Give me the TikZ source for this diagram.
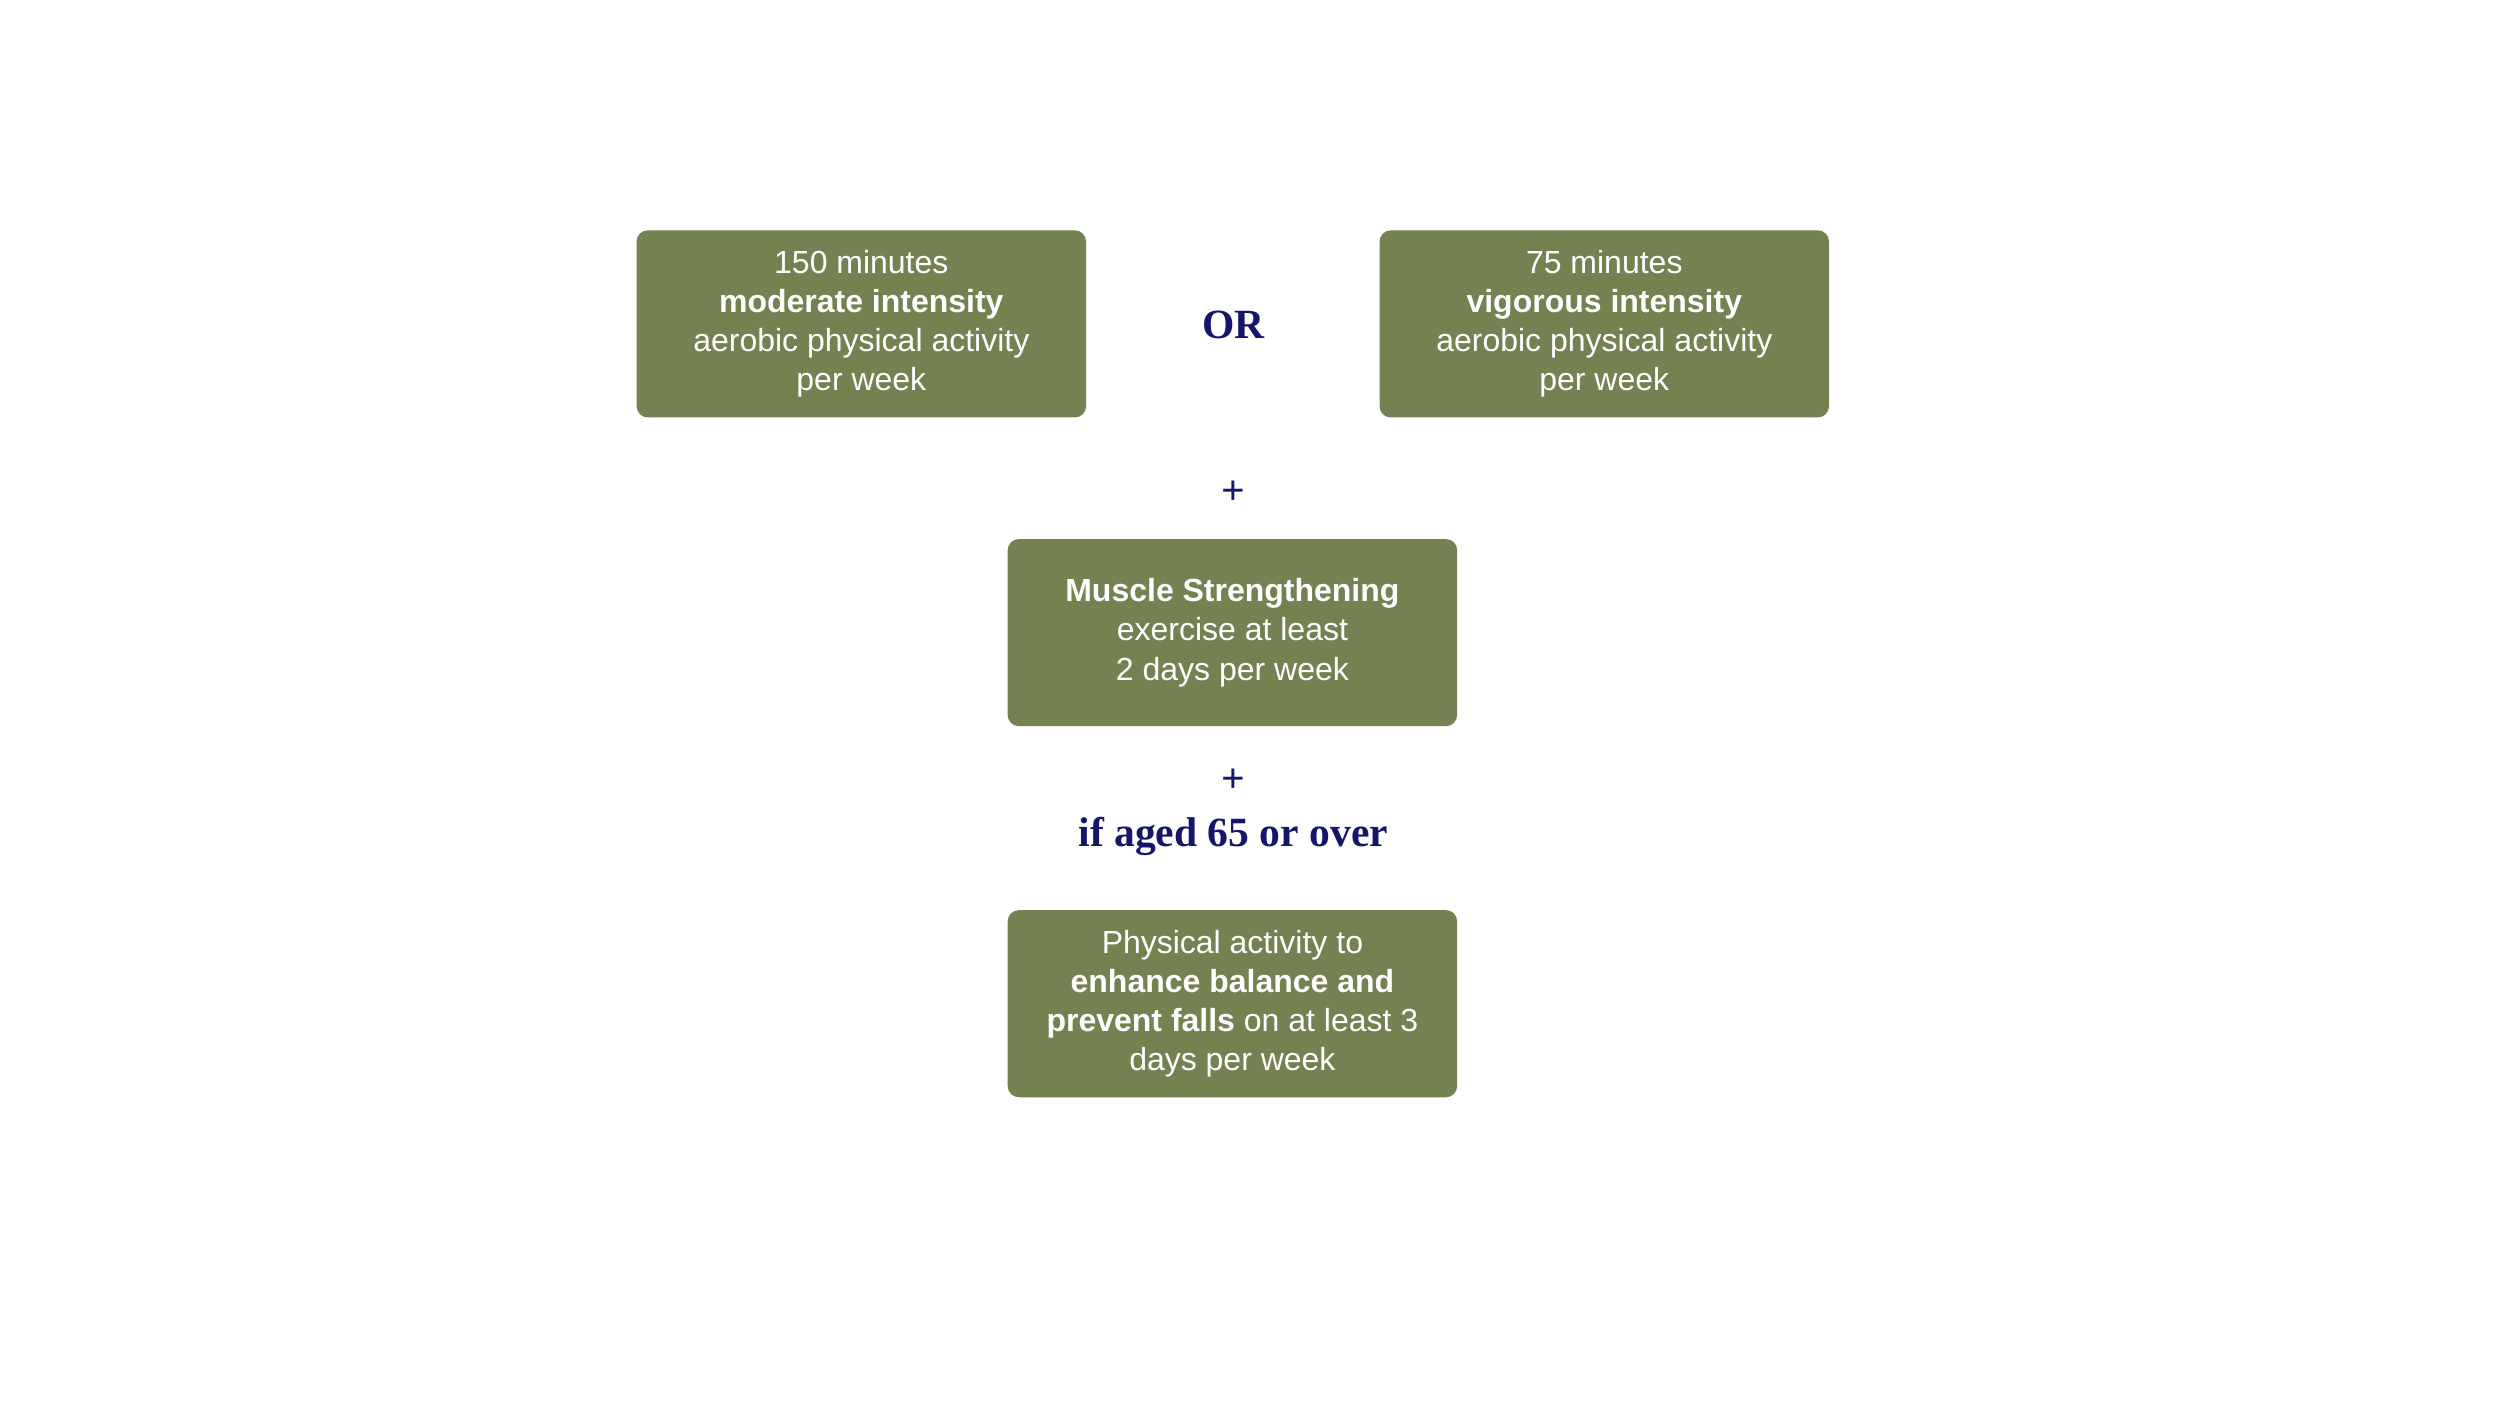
\documentclass[tikz,border=0pt]{standalone}
\usepackage{fontspec}
\setmainfont{Liberation Sans}
\newfontfamily\serifb{Liberation Serif}
\definecolor{boxg}{HTML}{748150}
\definecolor{navy}{HTML}{14156B}
\begin{document}
\begin{tikzpicture}[x=1pt,y=-1pt,
 box/.style={fill=boxg,rounded corners=7pt,minimum width=281pt,minimum height=117pt,text=white,align=center,font=\fontsize{20}{24.5}\selectfont,inner sep=0pt},
 lab/.style={text=navy,font=\serifb\bfseries\fontsize{26}{30}\selectfont}]
\useasboundingbox (0,0) rectangle (1563,879);
\node[box] (a) at (538.5,202.5) {150 minutes\\\textbf{moderate intensity}\\aerobic physical activity\\per week};
\node[box] (b) at (1003,202.5) {75 minutes\\\textbf{vigorous intensity}\\aerobic physical activity\\per week};
\node[lab] (or) at (771,203) {OR};
\node[lab] (p1) at (771,308) {+};
\node[box] (c) at (770.5,395.5) {\textbf{Muscle Strengthening}\\exercise at least\\2 days per week};
\node[lab] (p2) at (771,488) {+};
\node[lab] (age) at (771,523) {if aged 65 or over};
\node[box] (d) at (770.5,627.5) {Physical activity to\\\textbf{enhance balance and}\\\textbf{prevent falls} on at least 3\\days per week};
\end{tikzpicture}
\end{document}
